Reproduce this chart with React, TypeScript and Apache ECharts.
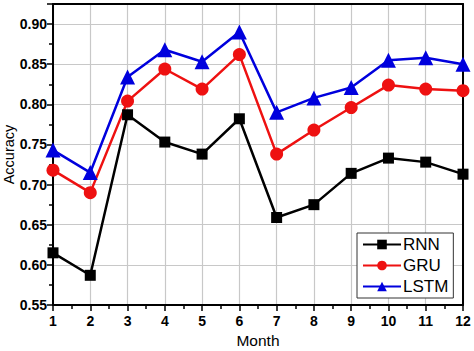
import React, { useEffect, useRef } from "react";
import * as echarts from "echarts";

const months = [1, 2, 3, 4, 5, 6, 7, 8, 9, 10, 11, 12];
const rnn = [0.615, 0.587, 0.787, 0.753, 0.738, 0.782, 0.659, 0.675, 0.714, 0.733, 0.728, 0.713];
const gru = [0.718, 0.69, 0.804, 0.844, 0.819, 0.862, 0.738, 0.768, 0.796, 0.824, 0.819, 0.817];
const lstm = [0.743, 0.715, 0.834, 0.868, 0.853, 0.89, 0.79, 0.808, 0.821, 0.855, 0.858, 0.85];

const FONT = "Liberation Sans, Arial, sans-serif";

export default function App() {
  const ref = useRef<HTMLDivElement>(null);
  useEffect(() => {
    const chart = echarts.init(ref.current!, null, { renderer: "svg" });
    const mk = (name: string, vals: number[], color: string, symbol: string, size: number) => ({
      name,
      type: "line",
      data: months.map((m, i) => [m, vals[i]]),
      symbol,
      symbolSize: size,
      lineStyle: { color, width: 2.5 },
      itemStyle: { color },
      z: 3,
    });
    const boxAxis = {
      show: true,
      axisLine: { show: true, onZero: false, lineStyle: { color: "#000", width: 2 } },
      axisTick: { show: false },
      axisLabel: { show: false },
      splitLine: { show: false },
    };
    chart.setOption({
      animation: false,
      grid: { left: 53, right: 11, top: 4, bottom: 46, outerBoundsMode: "none", containLabel: false },
      legend: {
        orient: "vertical",
        left: 357,
        top: 233,
        width: 95,
        itemWidth: 38,
        itemHeight: 12,
        itemGap: 4,
        padding: [3, 5, 3, 5],
        borderColor: "#333",
        borderWidth: 1,
        backgroundColor: "#fff",
        textStyle: { fontFamily: FONT, fontSize: 17, color: "#000", padding: [0, 0, 0, -3] },
        data: ["RNN", "GRU", "LSTM"],
      },
      xAxis: [
        {
          type: "value",
          min: 1,
          max: 12,
          interval: 1,
          name: "Month",
          nameLocation: "middle",
          nameGap: 27,
          nameMoveOverlap: false,
          nameTextStyle: { fontFamily: FONT, fontSize: 15.5, color: "#000" },
          axisLine: { show: true, onZero: false, lineStyle: { color: "#000", width: 2 } },
          axisTick: { show: true, inside: false, length: 6, lineStyle: { color: "#000", width: 1.5 } },
          minorTick: { show: true, splitNumber: 2, length: 4, lineStyle: { color: "#000", width: 1.5 } },
          axisLabel: { fontFamily: FONT, fontSize: 14, fontWeight: "bold", color: "#000", margin: 9 },
          splitLine: { show: true, lineStyle: { color: "#c8c8c8", width: 1.2 } },
        },
        { ...boxAxis, type: "value", position: "top", min: 1, max: 12 },
      ],
      yAxis: [
        {
          type: "value",
          min: 0.55,
          max: 0.925,
          interval: 0.05,
          name: "Accuracy",
          nameLocation: "middle",
          nameGap: 37,
          nameMoveOverlap: false,
          nameTextStyle: { fontFamily: FONT, fontSize: 14.5, color: "#000" },
          axisLine: { show: true, onZero: false, lineStyle: { color: "#000", width: 2 } },
          axisTick: { show: true, inside: false, length: 6, lineStyle: { color: "#000", width: 1.5 } },
          minorTick: { show: true, splitNumber: 2, length: 4, lineStyle: { color: "#000", width: 1.5 } },
          axisLabel: {
            fontFamily: FONT,
            fontSize: 14,
            fontWeight: "bold",
            color: "#000",
            margin: 6,
            showMaxLabel: false,
            formatter: (v: number) => v.toFixed(2),
          },
          splitLine: { show: true, lineStyle: { color: "#c8c8c8", width: 1.2 } },
        },
        { ...boxAxis, type: "value", position: "right", min: 0.55, max: 0.925 },
      ],
      series: [
        mk("RNN", rnn, "#000000", "rect", 11),
        mk("GRU", gru, "#ee1111", "circle", 13),
        mk("LSTM", lstm, "#0000dd", "triangle", 15),
      ],
    });
    return () => chart.dispose();
  }, []);
  return (
    <div style={{ position: "fixed", left: 0, top: 0, width: 474, height: 351, background: "#fff" }}>
      <div ref={ref} style={{ width: 474, height: 351 }} />
    </div>
  );
}
